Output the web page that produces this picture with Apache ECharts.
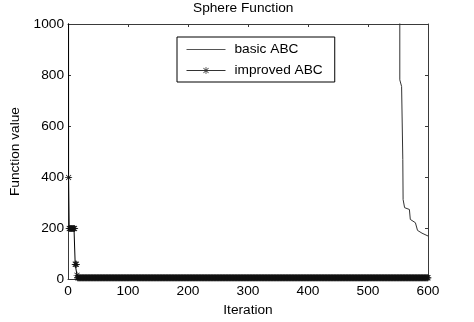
<!DOCTYPE html>
<html>
<head>
<meta charset="utf-8">
<script src="https://cdn.jsdelivr.net/npm/echarts@6/dist/echarts.min.js"></script>
<style>
html,body{margin:0;padding:0;background:#fff;}
#chart{width:474px;height:322px;}
</style>
</head>
<body>
<div id="chart"></div>
<script>
// ---- data ----
const titleText = 'Sphere Function';
const xName = 'Iteration';
const yName = 'Function value';
const seriesNames = ['basic ABC', 'improved ABC'];

// basic ABC: stays above 1000 until ~553, then drops
const basicIter  = [0,     553,   553, 556, 558, 558.5, 561, 569, 570.5, 579, 582.5, 590, 600];
const basicValue = [50000, 50000, 781, 755, 469, 312,   280, 273, 234,   221, 191,   180, 169];

// improved ABC: value recorded at every iteration; given as step changes (iteration where a new value starts)
const improvedStepIter  = [0,    1,   2,   12, 15, 16];
const improvedStepValue = [8000, 398, 198, 58, 15, 5];
const lastIteration = 600;

// ---- build series data ----
const basicData = basicIter.map((x, i) => [x, basicValue[i]]);
const improvedData = [];
for (let it = 0; it <= lastIteration; it++) {
  let v = improvedStepValue[0];
  for (let k = 0; k < improvedStepIter.length; k++) {
    if (improvedStepIter[k] <= it) v = improvedStepValue[k];
  }
  improvedData.push([it, v]);
}

const FONT = "'Liberation Sans', Arial, Helvetica, sans-serif";
const FS = 13.7;
const AX = '#3a3a3a';
const star = 'path://M0 9L20 9L20 11L0 11Z M9 0L11 0L11 20L9 20Z M3.6 2.2L17.8 16.4L16.4 17.8L2.2 3.6Z M16.4 2.2L17.8 3.6L3.6 17.8L2.2 16.4Z';

const chart = echarts.init(document.getElementById('chart'), null, {renderer: 'canvas'});
const baseAxis = {
  type: 'value',
  axisLine: {show: true, onZero: false, lineStyle: {color: AX, width: 1}},
  axisTick: {show: true, inside: true, length: 3, lineStyle: {color: AX}},
  splitLine: {show: false},
};
chart.setOption({
  animation: false,
  backgroundColor: '#fff',
  textStyle: {fontFamily: FONT},
  title: {
    text: titleText, left: 193, top: 1, padding: 0,
    textStyle: {fontFamily: FONT, fontSize: FS, fontWeight: 'normal', color: '#000'}
  },
  legend: {
    orient: 'vertical', left: 177, top: 37,
    padding: [5, 12, 4, 9], itemGap: 6, itemWidth: 39, itemHeight: 9,
    backgroundColor: '#fff', borderColor: '#000', borderWidth: 1, borderRadius: 0,
    textStyle: {fontFamily: FONT, fontSize: FS, color: '#000', padding: [0, 0, 0, 4], lineHeight: 15},
    data: [
      {name: seriesNames[0], itemStyle: {opacity: 0}, lineStyle: {width: 1, color: '#555'}},
      {name: seriesNames[1], lineStyle: {width: 1, color: '#333'}, itemStyle: {color: '#333'}}
    ]
  },
  grid: {left: 62, right: 46, top: 24, bottom: 42, containLabel: false},
  xAxis: [
    Object.assign({}, baseAxis, {
      position: 'bottom', min: 0, max: 600, interval: 100,
      axisLabel: {fontFamily: FONT, fontSize: FS, color: '#000', margin: 5},
      name: xName, nameLocation: 'middle', nameGap: 23,
      nameTextStyle: {fontFamily: FONT, fontSize: FS, color: '#000'}
    }),
    Object.assign({}, baseAxis, {
      position: 'top', min: 0, max: 600, interval: 100, axisLabel: {show: false}
    })
  ],
  yAxis: [
    Object.assign({}, baseAxis, {
      position: 'left', min: 0, max: 1000, interval: 200,
      axisLabel: {fontFamily: FONT, fontSize: FS, color: '#000', margin: 4, formatter: v => String(v)},
      name: yName, nameLocation: 'middle', nameGap: 46,
      nameTextStyle: {fontFamily: FONT, fontSize: FS, color: '#000'}
    }),
    Object.assign({}, baseAxis, {
      position: 'right', min: 0, max: 1000, interval: 200, axisLabel: {show: false}
    })
  ],
  series: [
    {
      name: seriesNames[0], type: 'line', data: basicData,
      xAxisIndex: 0, yAxisIndex: 0,
      showSymbol: false, symbol: 'none', clip: true,
      lineStyle: {color: '#333', width: 1},
      itemStyle: {color: '#333'}
    },
    {
      name: seriesNames[1], type: 'line', data: improvedData,
      xAxisIndex: 0, yAxisIndex: 0,
      symbol: star, symbolSize: 7, showSymbol: true, showAllSymbol: true,
      clip: true,
      lineStyle: {color: '#000', width: 1},
      itemStyle: {color: '#111'}
    }
  ]
});
</script>
</body>
</html>
